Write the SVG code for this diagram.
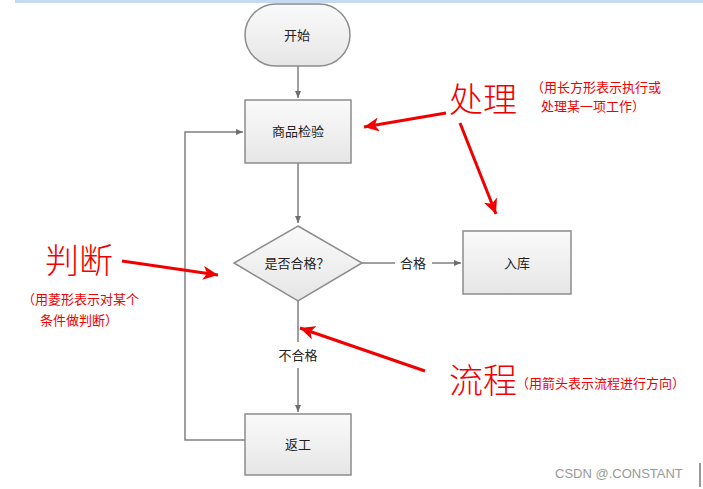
<svg xmlns="http://www.w3.org/2000/svg" width="703" height="489" viewBox="0 0 703 489">
<defs>
<linearGradient id="g" x1="0" y1="0" x2="0" y2="1"><stop offset="0" stop-color="#fafafa"/><stop offset="1" stop-color="#e6e6e6"/></linearGradient>
<marker id="ah" markerWidth="8" markerHeight="8" refX="7" refY="4" orient="auto" markerUnits="userSpaceOnUse"><path d="M0,1 L7,4 L0,7 z" fill="#6e6e6e"/></marker>
<marker id="rh" markerWidth="16" markerHeight="14" refX="15" refY="7" orient="auto" markerUnits="userSpaceOnUse"><path d="M0,0 L15,7 L0,14 L4,7 z" fill="#f00000"/></marker>
<style>
.n{fill:url(#g);stroke:#8c8c8c;stroke-width:1.5}
.t{font-family:"Liberation Sans","Noto Sans CJK SC",sans-serif;font-size:13px;fill:#222;text-anchor:middle}
.c{fill:none;stroke:#808080;stroke-width:1.5}
.r{font-family:"Noto Sans CJK SC",sans-serif;fill:#f00000}
.big{font-weight:300}
.ra{stroke:#f00000;stroke-width:3;fill:none}
</style>
</defs>
<rect width="703" height="489" fill="#fff"/>
<rect x="15" y="0" width="688" height="3" fill="#c5d9f1"/>
<g id="connectors">
<path class="c" d="M298,66 V98" marker-end="url(#ah)"/>
<path class="c" d="M298,163 V223" marker-end="url(#ah)"/>
<path class="c" d="M362,263 H395 M432,263 H461" marker-end="url(#ah)"/>
<path class="c" d="M298,301 V342 M298,368 V412" marker-end="url(#ah)"/>
<path class="c" d="M245,440 H185 V132 H243" marker-end="url(#ah)"/>
<text class="t" x="413" y="268">合格</text>
<text class="t" x="298" y="360">不合格</text>
</g>
<g id="start"><rect class="n" x="245" y="4" width="105" height="62" rx="31"/><text class="t" x="297" y="40">开始</text></g>
<g id="inspect"><rect class="n" x="245" y="100" width="106" height="63"/><text class="t" x="298" y="136">商品检验</text></g>
<g id="decision"><polygon class="n" points="298,226 362,263 298,301 234,263"/><text class="t" x="297" y="268">是否合格？</text></g>
<g id="store"><rect class="n" x="463" y="231" width="108" height="63"/><text class="t" x="517" y="268">入库</text></g>
<g id="rework"><rect class="n" x="245" y="414" width="106" height="61"/><text class="t" x="298" y="449">返工</text></g>
<g id="annotations">
<text class="r big" x="449" y="112" font-size="34">处理</text>
<text class="r" x="531" y="92" font-size="13">（用长方形表示执行或</text>
<text class="r" x="541" y="111" font-size="13">处理某一项工作）</text>
<path class="ra" d="M446,113 L364,127" marker-end="url(#rh)"/>
<path class="ra" d="M460,123 L496,214" marker-end="url(#rh)"/>
<text class="r big" x="45" y="273" font-size="34">判断</text>
<text class="r" x="22" y="304" font-size="13">（用菱形表示对某个</text>
<text class="r" x="40" y="325" font-size="13">条件做判断）</text>
<path class="ra" d="M122,261 L218,275" marker-end="url(#rh)"/>
<text class="r big" x="449" y="393" font-size="34">流程</text>
<text class="r" x="516" y="388" font-size="13">（用箭头表示流程进行方向）</text>
<path class="ra" d="M425,371 L300,328" marker-end="url(#rh)"/>
</g>
<text x="555" y="478" font-family="Liberation Sans,sans-serif" font-size="13" fill="#999">CSDN @.CONSTANT</text>
<line x1="700" y1="463" x2="700" y2="487" stroke="#333" stroke-width="1"/>
</svg>
